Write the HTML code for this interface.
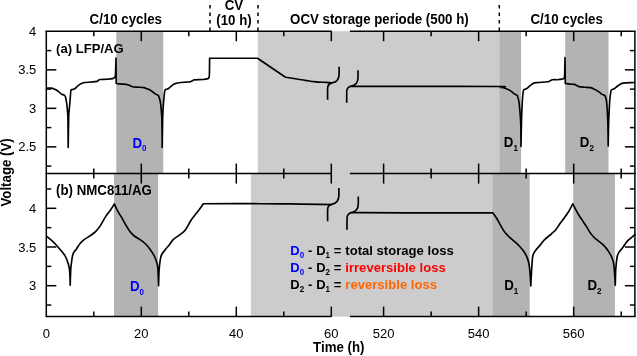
<!DOCTYPE html>
<html><head><meta charset="utf-8"><title>Voltage vs time</title>
<style>
html,body{margin:0;padding:0;background:#fff;}
body{width:637px;height:356px;overflow:hidden;}
svg{display:block;font-family:"Liberation Sans",Arial,sans-serif;}
</style></head>
<body>
<svg width="637" height="356" viewBox="0 0 637 356">
<rect width="637" height="356" fill="#fff"/>
<rect x="116.30" y="31.20" width="46.90" height="142.40" fill="#b3b3b3"/>
<rect x="257.80" y="31.20" width="241.50" height="142.40" fill="#cccccc"/>
<rect x="499.30" y="31.20" width="21.80" height="142.40" fill="#b3b3b3"/>
<rect x="565.20" y="31.20" width="43.30" height="142.40" fill="#b3b3b3"/>
<rect x="114.00" y="173.60" width="44.10" height="143.00" fill="#b3b3b3"/>
<rect x="250.90" y="173.60" width="241.30" height="143.00" fill="#cccccc"/>
<rect x="492.20" y="173.60" width="37.50" height="143.00" fill="#b3b3b3"/>
<rect x="573.20" y="173.60" width="41.70" height="143.00" fill="#b3b3b3"/>
<rect x="300.00" y="172.60" width="80.00" height="2.00" fill="#cccccc"/>
<path d="M46.50,88.10 C46.50,88.10 50.33,87.97 51.60,88.10 C52.87,88.23 53.27,88.55 54.10,88.90 C54.93,89.25 55.75,89.67 56.60,90.20 C57.45,90.73 58.50,91.53 59.20,92.10 C59.90,92.67 60.32,93.22 60.80,93.60 C61.28,93.98 61.53,94.15 62.10,94.40 C62.67,94.65 63.63,94.68 64.20,95.10 C64.77,95.52 65.12,95.75 65.50,96.90 C65.88,98.05 66.18,99.82 66.50,102.00 C66.82,104.18 67.17,107.33 67.40,110.00 C67.63,112.67 67.77,111.77 67.90,118.00 C68.03,124.23 68.20,147.40 68.20,147.40 C68.20,147.40 68.50,123.57 68.70,117.00 C68.90,110.43 69.17,110.83 69.40,108.00 C69.63,105.17 69.85,102.90 70.10,100.00 C70.35,97.10 70.55,92.35 70.90,90.60 C71.25,88.85 71.70,89.73 72.20,89.50 C72.70,89.27 73.33,89.43 73.90,89.20 C74.47,88.97 74.97,88.63 75.60,88.10 C76.23,87.57 76.93,86.67 77.70,86.00 C78.47,85.33 79.37,84.58 80.20,84.10 C81.03,83.62 81.98,83.37 82.70,83.10 C83.42,82.83 83.08,82.68 84.50,82.50 C85.92,82.32 89.13,82.18 91.20,82.00 C93.27,81.82 95.68,81.68 96.90,81.40 C98.12,81.12 97.95,80.62 98.50,80.30 C99.05,79.98 98.78,79.68 100.20,79.50 C101.62,79.32 104.93,79.35 107.00,79.20 C109.07,79.05 111.38,78.88 112.60,78.60 C113.82,78.32 113.83,78.07 114.30,77.50 C114.77,76.93 115.12,78.43 115.40,75.20 C115.68,71.97 116.00,58.10 116.00,58.10 C116.00,58.10 116.20,83.50 116.20,83.50 C116.20,83.50 116.30,83.60 117.50,83.70 C118.70,83.80 121.72,83.93 123.40,84.10 C125.08,84.27 126.40,84.38 127.60,84.70 C128.80,85.02 129.75,85.65 130.60,86.00 C131.45,86.35 131.37,86.60 132.70,86.80 C134.03,87.00 136.77,87.07 138.60,87.20 C140.43,87.33 142.30,87.35 143.70,87.60 C145.10,87.85 145.88,88.27 147.00,88.70 C148.12,89.13 149.33,89.57 150.40,90.20 C151.47,90.83 152.48,91.80 153.40,92.50 C154.32,93.20 155.13,93.95 155.90,94.40 C156.67,94.85 157.43,94.63 158.00,95.20 C158.57,95.77 158.88,96.53 159.30,97.80 C159.72,99.07 160.15,100.43 160.50,102.80 C160.85,105.17 161.17,109.13 161.40,112.00 C161.63,114.87 161.77,114.10 161.90,120.00 C162.03,125.90 162.20,147.40 162.20,147.40 C162.20,147.40 162.43,126.73 162.60,120.00 C162.77,113.27 162.98,110.58 163.20,107.00 C163.42,103.42 163.65,101.13 163.90,98.50 C164.15,95.87 164.35,92.72 164.70,91.20 C165.05,89.68 165.42,89.80 166.00,89.40 C166.58,89.00 167.47,89.23 168.20,88.80 C168.93,88.37 169.60,87.48 170.40,86.80 C171.20,86.12 172.07,85.27 173.00,84.70 C173.93,84.13 175.00,83.73 176.00,83.40 C177.00,83.07 177.35,82.92 179.00,82.70 C180.65,82.48 184.03,82.25 185.90,82.10 C187.77,81.95 189.05,82.07 190.20,81.80 C191.35,81.53 192.08,80.82 192.80,80.50 C193.52,80.18 192.77,80.07 194.50,79.90 C196.23,79.73 201.10,79.67 203.20,79.50 C205.30,79.33 206.17,79.18 207.10,78.90 C208.03,78.62 208.42,78.57 208.80,77.80 C209.18,77.03 209.27,77.57 209.40,74.30 C209.53,71.03 209.60,58.20 209.60,58.20 C209.60,58.20 257.50,58.20 257.50,58.20 C257.50,58.20 285.50,77.20 285.50,77.20 C285.50,77.20 307.05,80.73 313.80,81.60 C320.55,82.47 322.98,82.18 326.00,82.40 C329.02,82.62 331.90,82.90 331.90,82.90" fill="none" stroke="#000" stroke-width="1.65" stroke-linejoin="round" stroke-linecap="butt"/>
<path d="M350.80,86.40 C350.80,86.40 348.47,86.30 360.00,86.30 C371.53,86.30 396.78,86.37 420.00,86.40 C443.22,86.43 485.93,86.33 499.30,86.50 C512.67,86.67 499.48,87.20 500.20,87.40 C500.92,87.60 502.47,87.45 503.60,87.70 C504.73,87.95 505.88,88.42 507.00,88.90 C508.12,89.38 509.25,89.90 510.30,90.60 C511.35,91.30 512.45,92.45 513.30,93.10 C514.15,93.75 514.77,94.15 515.40,94.50 C516.03,94.85 516.62,94.52 517.10,95.20 C517.58,95.88 517.95,97.18 518.30,98.60 C518.65,100.02 518.88,100.97 519.20,103.70 C519.52,106.43 519.93,111.45 520.20,115.00 C520.47,118.55 520.67,119.77 520.80,125.00 C520.93,130.23 521.00,146.40 521.00,146.40 C521.00,146.40 521.25,131.07 521.40,125.00 C521.55,118.93 521.72,114.38 521.90,110.00 C522.08,105.62 522.25,101.92 522.50,98.70 C522.75,95.48 523.05,92.25 523.40,90.70 C523.75,89.15 524.05,89.77 524.60,89.40 C525.15,89.03 525.78,89.13 526.70,88.50 C527.62,87.87 528.97,86.47 530.10,85.60 C531.23,84.73 532.37,83.80 533.50,83.30 C534.63,82.80 534.52,82.85 536.90,82.60 C539.28,82.35 545.63,82.07 547.80,81.80 C549.97,81.53 549.12,81.35 549.90,81.00 C550.68,80.65 551.30,79.92 552.50,79.70 C553.70,79.48 555.48,79.80 557.10,79.70 C558.72,79.60 561.08,79.33 562.20,79.10 C563.32,78.87 563.40,78.98 563.80,78.30 C564.20,77.62 564.40,78.47 564.60,75.00 C564.80,71.53 565.00,57.50 565.00,57.50 C565.00,57.50 565.30,83.40 565.30,83.40 C565.30,83.40 568.60,83.93 570.10,84.10 C571.60,84.27 573.18,84.17 574.30,84.40 C575.42,84.63 576.03,85.13 576.80,85.50 C577.57,85.87 577.63,86.32 578.90,86.60 C580.17,86.88 582.50,87.03 584.40,87.20 C586.30,87.37 588.75,87.32 590.30,87.60 C591.85,87.88 592.58,88.40 593.70,88.90 C594.82,89.40 595.95,89.97 597.00,90.60 C598.05,91.23 599.15,92.07 600.00,92.70 C600.85,93.33 601.40,94.00 602.10,94.40 C602.80,94.80 603.63,94.68 604.20,95.10 C604.77,95.52 605.08,95.62 605.50,96.90 C605.92,98.18 606.37,99.78 606.70,102.80 C607.03,105.82 607.30,111.30 607.50,115.00 C607.70,118.70 607.78,119.85 607.90,125.00 C608.02,130.15 608.20,145.90 608.20,145.90 C608.20,145.90 608.43,130.98 608.60,125.00 C608.77,119.02 608.98,114.33 609.20,110.00 C609.42,105.67 609.58,102.23 609.90,99.00 C610.22,95.77 610.65,92.20 611.10,90.60 C611.55,89.00 612.00,89.75 612.60,89.40 C613.20,89.05 613.87,89.07 614.70,88.50 C615.53,87.93 616.62,86.77 617.60,86.00 C618.58,85.23 619.62,84.38 620.60,83.90 C621.58,83.42 621.88,83.32 623.50,83.10 C625.12,82.88 628.40,82.70 630.30,82.60 C632.20,82.50 634.90,82.50 634.90,82.50" fill="none" stroke="#000" stroke-width="1.65" stroke-linejoin="round" stroke-linecap="butt"/>
<path d="M46.60,236.30 C46.60,236.30 49.50,238.47 51.00,239.80 C52.50,241.13 54.27,242.90 55.60,244.30 C56.93,245.70 57.93,246.97 59.00,248.20 C60.07,249.43 60.88,250.23 62.00,251.70 C63.12,253.17 64.63,254.90 65.70,257.00 C66.77,259.10 67.73,261.87 68.40,264.30 C69.07,266.73 69.40,268.10 69.70,271.60 C70.00,275.10 70.20,285.30 70.20,285.30 C70.20,285.30 70.50,273.22 70.80,268.80 C71.10,264.38 71.58,261.38 72.00,258.80 C72.42,256.22 72.53,254.98 73.30,253.30 C74.07,251.62 75.43,250.37 76.60,248.70 C77.77,247.03 78.93,244.88 80.30,243.30 C81.67,241.72 82.98,240.58 84.80,239.20 C86.62,237.82 89.37,236.30 91.20,235.00 C93.03,233.70 94.27,232.97 95.80,231.40 C97.33,229.83 98.77,228.07 100.40,225.60 C102.03,223.13 103.88,219.23 105.60,216.60 C107.32,213.97 109.23,211.92 110.70,209.80 C112.17,207.68 114.40,203.90 114.40,203.90 C114.40,203.90 116.20,208.45 117.40,210.70 C118.60,212.95 120.20,215.02 121.60,217.40 C123.00,219.78 124.38,222.60 125.80,225.00 C127.22,227.40 128.68,229.97 130.10,231.80 C131.52,233.63 132.63,234.70 134.30,236.00 C135.97,237.30 138.30,238.35 140.10,239.60 C141.90,240.85 143.42,241.87 145.10,243.50 C146.78,245.13 148.65,247.28 150.20,249.40 C151.75,251.52 153.33,254.08 154.40,256.20 C155.47,258.32 156.03,260.13 156.60,262.10 C157.17,264.07 157.47,264.07 157.80,268.00 C158.13,271.93 158.60,285.70 158.60,285.70 C158.60,285.70 158.82,274.87 159.10,270.50 C159.38,266.13 159.87,262.17 160.30,259.50 C160.73,256.83 160.82,256.22 161.70,254.50 C162.58,252.78 164.32,250.83 165.60,249.20 C166.88,247.57 168.13,246.28 169.40,244.70 C170.67,243.12 171.72,241.17 173.20,239.70 C174.68,238.23 176.62,237.17 178.30,235.90 C179.98,234.63 181.93,233.37 183.30,232.10 C184.67,230.83 185.22,230.27 186.50,228.30 C187.78,226.33 189.65,222.45 191.00,220.30 C192.35,218.15 193.30,217.08 194.60,215.40 C195.90,213.72 197.35,212.15 198.80,210.20 C200.25,208.25 203.30,203.70 203.30,203.70 C203.30,203.70 245.55,203.67 260.00,203.70 C274.45,203.73 280.00,203.78 290.00,203.90 C300.00,204.02 313.05,204.28 320.00,204.40 C326.95,204.52 331.70,204.60 331.70,204.60" fill="none" stroke="#000" stroke-width="1.65" stroke-linejoin="round" stroke-linecap="butt"/>
<path d="M351.10,212.60 C351.10,212.60 348.52,212.55 360.00,212.60 C371.48,212.65 397.83,212.85 420.00,212.90 C442.17,212.95 493.00,212.90 493.00,212.90 C493.00,212.90 495.47,216.30 496.80,218.50 C498.13,220.70 499.60,223.72 501.00,226.10 C502.40,228.48 503.65,230.83 505.20,232.80 C506.75,234.77 508.62,236.35 510.30,237.90 C511.98,239.45 513.65,240.58 515.30,242.10 C516.95,243.62 518.77,245.43 520.20,247.00 C521.63,248.57 522.68,249.60 523.90,251.50 C525.12,253.40 526.57,255.77 527.50,258.40 C528.43,261.03 528.95,262.70 529.50,267.30 C530.05,271.90 530.80,286.00 530.80,286.00 C530.80,286.00 531.47,272.30 531.80,267.30 C532.13,262.30 532.30,258.63 532.80,256.00 C533.30,253.37 533.65,253.23 534.80,251.50 C535.95,249.77 538.07,247.57 539.70,245.60 C541.33,243.63 542.63,241.67 544.60,239.70 C546.57,237.73 549.60,235.50 551.50,233.80 C553.40,232.10 554.58,231.22 556.00,229.50 C557.42,227.78 558.72,225.30 560.00,223.50 C561.28,221.70 562.33,220.57 563.70,218.70 C565.07,216.83 566.68,214.78 568.20,212.30 C569.72,209.82 572.80,203.80 572.80,203.80 C572.80,203.80 574.68,207.60 575.70,209.50 C576.72,211.40 577.73,213.30 578.90,215.20 C580.07,217.10 581.43,219.00 582.70,220.90 C583.97,222.80 585.23,224.60 586.50,226.60 C587.77,228.60 589.05,231.12 590.30,232.90 C591.55,234.68 592.88,236.13 594.00,237.30 C595.12,238.47 596.00,239.08 597.00,239.90 C598.00,240.72 599.08,241.48 600.00,242.20 C600.92,242.92 601.67,243.43 602.50,244.20 C603.33,244.97 604.08,245.73 605.00,246.80 C605.92,247.87 606.90,248.90 608.00,250.60 C609.10,252.30 610.63,254.72 611.60,257.00 C612.57,259.28 613.18,259.58 613.80,264.30 C614.42,269.02 615.30,285.30 615.30,285.30 C615.30,285.30 615.50,273.52 615.80,268.80 C616.10,264.08 616.58,259.73 617.10,257.00 C617.62,254.27 617.98,253.93 618.90,252.40 C619.82,250.87 621.23,249.63 622.60,247.80 C623.97,245.97 625.58,243.13 627.10,241.40 C628.62,239.67 630.32,238.62 631.70,237.40 C633.08,236.18 635.40,234.10 635.40,234.10" fill="none" stroke="#000" stroke-width="1.65" stroke-linejoin="round" stroke-linecap="butt"/>
<path d="M339.10,66.70 L339.10,73.98 C339.10,79.28 336.10,82.26 331.90,82.92 C329.30,83.58 327.60,84.91 327.60,88.55 L327.60,99.80" fill="none" stroke="#000" stroke-width="1.65"/>
<path d="M358.00,70.30 L358.00,77.45 C358.00,82.65 355.00,85.57 350.80,86.22 C348.20,86.88 346.70,88.17 346.70,91.75 L346.70,102.80" fill="none" stroke="#000" stroke-width="1.65"/>
<path d="M338.90,188.00 L338.90,195.33 C338.90,200.65 335.90,203.65 331.70,204.32 C329.10,204.98 327.60,206.31 327.60,209.98 L327.60,221.30" fill="none" stroke="#000" stroke-width="1.65"/>
<path d="M358.30,196.40 L358.30,203.75 C358.30,209.09 355.30,212.10 351.10,212.77 C348.50,213.43 347.00,214.77 347.00,218.44 L347.00,229.80" fill="none" stroke="#000" stroke-width="1.65"/>
<line x1="45.55" y1="31.20" x2="331.60" y2="31.20" stroke="#000" stroke-width="1.5" />
<line x1="349.90" y1="31.20" x2="635.65" y2="31.20" stroke="#000" stroke-width="1.5" />
<line x1="45.55" y1="173.60" x2="331.60" y2="173.60" stroke="#000" stroke-width="1.5" />
<line x1="349.90" y1="173.60" x2="635.65" y2="173.60" stroke="#000" stroke-width="1.5" />
<line x1="45.55" y1="316.60" x2="331.60" y2="316.60" stroke="#000" stroke-width="1.5" />
<line x1="349.90" y1="316.60" x2="635.65" y2="316.60" stroke="#000" stroke-width="1.5" />
<line x1="46.30" y1="31.20" x2="46.30" y2="316.60" stroke="#000" stroke-width="1.5" />
<line x1="634.90" y1="31.20" x2="634.90" y2="316.60" stroke="#000" stroke-width="1.5" />
<line x1="93.80" y1="31.20" x2="93.80" y2="36.20" stroke="#000" stroke-width="1.5" />
<line x1="93.80" y1="168.60" x2="93.80" y2="178.60" stroke="#000" stroke-width="1.5" />
<line x1="93.80" y1="311.60" x2="93.80" y2="316.60" stroke="#000" stroke-width="1.5" />
<line x1="141.30" y1="31.20" x2="141.30" y2="41.20" stroke="#000" stroke-width="1.5" />
<line x1="141.30" y1="163.60" x2="141.30" y2="183.60" stroke="#000" stroke-width="1.5" />
<line x1="141.30" y1="306.60" x2="141.30" y2="316.60" stroke="#000" stroke-width="1.5" />
<line x1="188.80" y1="31.20" x2="188.80" y2="36.20" stroke="#000" stroke-width="1.5" />
<line x1="188.80" y1="168.60" x2="188.80" y2="178.60" stroke="#000" stroke-width="1.5" />
<line x1="188.80" y1="311.60" x2="188.80" y2="316.60" stroke="#000" stroke-width="1.5" />
<line x1="236.30" y1="31.20" x2="236.30" y2="41.20" stroke="#000" stroke-width="1.5" />
<line x1="236.30" y1="163.60" x2="236.30" y2="183.60" stroke="#000" stroke-width="1.5" />
<line x1="236.30" y1="306.60" x2="236.30" y2="316.60" stroke="#000" stroke-width="1.5" />
<line x1="283.80" y1="31.20" x2="283.80" y2="36.20" stroke="#000" stroke-width="1.5" />
<line x1="283.80" y1="168.60" x2="283.80" y2="178.60" stroke="#000" stroke-width="1.5" />
<line x1="283.80" y1="311.60" x2="283.80" y2="316.60" stroke="#000" stroke-width="1.5" />
<line x1="331.30" y1="31.20" x2="331.30" y2="41.20" stroke="#000" stroke-width="1.5" />
<line x1="331.30" y1="163.60" x2="331.30" y2="183.60" stroke="#000" stroke-width="1.5" />
<line x1="331.30" y1="306.60" x2="331.30" y2="316.60" stroke="#000" stroke-width="1.5" />
<line x1="383.60" y1="31.20" x2="383.60" y2="41.20" stroke="#000" stroke-width="1.5" />
<line x1="383.60" y1="163.60" x2="383.60" y2="183.60" stroke="#000" stroke-width="1.5" />
<line x1="383.60" y1="306.60" x2="383.60" y2="316.60" stroke="#000" stroke-width="1.5" />
<line x1="431.12" y1="31.20" x2="431.12" y2="36.20" stroke="#000" stroke-width="1.5" />
<line x1="431.12" y1="168.60" x2="431.12" y2="178.60" stroke="#000" stroke-width="1.5" />
<line x1="431.12" y1="311.60" x2="431.12" y2="316.60" stroke="#000" stroke-width="1.5" />
<line x1="478.64" y1="31.20" x2="478.64" y2="41.20" stroke="#000" stroke-width="1.5" />
<line x1="478.64" y1="163.60" x2="478.64" y2="183.60" stroke="#000" stroke-width="1.5" />
<line x1="478.64" y1="306.60" x2="478.64" y2="316.60" stroke="#000" stroke-width="1.5" />
<line x1="526.16" y1="31.20" x2="526.16" y2="36.20" stroke="#000" stroke-width="1.5" />
<line x1="526.16" y1="168.60" x2="526.16" y2="178.60" stroke="#000" stroke-width="1.5" />
<line x1="526.16" y1="311.60" x2="526.16" y2="316.60" stroke="#000" stroke-width="1.5" />
<line x1="573.68" y1="31.20" x2="573.68" y2="41.20" stroke="#000" stroke-width="1.5" />
<line x1="573.68" y1="163.60" x2="573.68" y2="183.60" stroke="#000" stroke-width="1.5" />
<line x1="573.68" y1="306.60" x2="573.68" y2="316.60" stroke="#000" stroke-width="1.5" />
<line x1="621.20" y1="31.20" x2="621.20" y2="36.20" stroke="#000" stroke-width="1.5" />
<line x1="621.20" y1="168.60" x2="621.20" y2="178.60" stroke="#000" stroke-width="1.5" />
<line x1="621.20" y1="311.60" x2="621.20" y2="316.60" stroke="#000" stroke-width="1.5" />
<line x1="46.30" y1="50.60" x2="51.30" y2="50.60" stroke="#000" stroke-width="1.5" />
<line x1="629.90" y1="50.60" x2="634.90" y2="50.60" stroke="#000" stroke-width="1.5" />
<line x1="46.30" y1="69.85" x2="56.30" y2="69.85" stroke="#000" stroke-width="1.5" />
<line x1="624.90" y1="69.85" x2="634.90" y2="69.85" stroke="#000" stroke-width="1.5" />
<line x1="46.30" y1="89.10" x2="51.30" y2="89.10" stroke="#000" stroke-width="1.5" />
<line x1="629.90" y1="89.10" x2="634.90" y2="89.10" stroke="#000" stroke-width="1.5" />
<line x1="46.30" y1="108.35" x2="56.30" y2="108.35" stroke="#000" stroke-width="1.5" />
<line x1="624.90" y1="108.35" x2="634.90" y2="108.35" stroke="#000" stroke-width="1.5" />
<line x1="46.30" y1="127.60" x2="51.30" y2="127.60" stroke="#000" stroke-width="1.5" />
<line x1="629.90" y1="127.60" x2="634.90" y2="127.60" stroke="#000" stroke-width="1.5" />
<line x1="46.30" y1="146.85" x2="56.30" y2="146.85" stroke="#000" stroke-width="1.5" />
<line x1="624.90" y1="146.85" x2="634.90" y2="146.85" stroke="#000" stroke-width="1.5" />
<line x1="46.30" y1="166.10" x2="51.30" y2="166.10" stroke="#000" stroke-width="1.5" />
<line x1="629.90" y1="166.10" x2="634.90" y2="166.10" stroke="#000" stroke-width="1.5" />
<line x1="46.30" y1="188.95" x2="51.30" y2="188.95" stroke="#000" stroke-width="1.5" />
<line x1="629.90" y1="188.95" x2="634.90" y2="188.95" stroke="#000" stroke-width="1.5" />
<line x1="46.30" y1="208.30" x2="56.30" y2="208.30" stroke="#000" stroke-width="1.5" />
<line x1="624.90" y1="208.30" x2="634.90" y2="208.30" stroke="#000" stroke-width="1.5" />
<line x1="46.30" y1="227.65" x2="51.30" y2="227.65" stroke="#000" stroke-width="1.5" />
<line x1="629.90" y1="227.65" x2="634.90" y2="227.65" stroke="#000" stroke-width="1.5" />
<line x1="46.30" y1="247.00" x2="56.30" y2="247.00" stroke="#000" stroke-width="1.5" />
<line x1="624.90" y1="247.00" x2="634.90" y2="247.00" stroke="#000" stroke-width="1.5" />
<line x1="46.30" y1="266.35" x2="51.30" y2="266.35" stroke="#000" stroke-width="1.5" />
<line x1="629.90" y1="266.35" x2="634.90" y2="266.35" stroke="#000" stroke-width="1.5" />
<line x1="46.30" y1="285.70" x2="56.30" y2="285.70" stroke="#000" stroke-width="1.5" />
<line x1="624.90" y1="285.70" x2="634.90" y2="285.70" stroke="#000" stroke-width="1.5" />
<line x1="46.30" y1="305.05" x2="51.30" y2="305.05" stroke="#000" stroke-width="1.5" />
<line x1="629.90" y1="305.05" x2="634.90" y2="305.05" stroke="#000" stroke-width="1.5" />
<line x1="210.00" y1="5.00" x2="210.00" y2="31.20" stroke="#000" stroke-width="1.5" stroke-dasharray="3.5,4"/>
<line x1="258.00" y1="5.00" x2="258.00" y2="31.20" stroke="#000" stroke-width="1.5" stroke-dasharray="3.5,4"/>
<line x1="499.30" y1="5.00" x2="499.30" y2="31.20" stroke="#000" stroke-width="1.5" stroke-dasharray="3.5,4"/>
<text x="46.30" y="337.80" transform="matrix(1,0,0,1.04,0,-13.512)" text-anchor="middle" font-size="13" font-weight="normal" fill="#000" >0</text>
<text x="141.30" y="337.80" transform="matrix(1,0,0,1.04,0,-13.512)" text-anchor="middle" font-size="13" font-weight="normal" fill="#000" >20</text>
<text x="236.30" y="337.80" transform="matrix(1,0,0,1.04,0,-13.512)" text-anchor="middle" font-size="13" font-weight="normal" fill="#000" >40</text>
<text x="331.30" y="337.80" transform="matrix(1,0,0,1.04,0,-13.512)" text-anchor="middle" font-size="13" font-weight="normal" fill="#000" >60</text>
<text x="383.60" y="337.80" transform="matrix(1,0,0,1.04,0,-13.512)" text-anchor="middle" font-size="13" font-weight="normal" fill="#000" >520</text>
<text x="478.64" y="337.80" transform="matrix(1,0,0,1.04,0,-13.512)" text-anchor="middle" font-size="13" font-weight="normal" fill="#000" >540</text>
<text x="573.68" y="337.80" transform="matrix(1,0,0,1.04,0,-13.512)" text-anchor="middle" font-size="13" font-weight="normal" fill="#000" >560</text>
<text x="36.30" y="35.95" transform="matrix(1,0,0,1.04,0,-1.438)" text-anchor="end" font-size="13" font-weight="normal" fill="#000" >4</text>
<text x="36.30" y="74.45" transform="matrix(1,0,0,1.04,0,-2.978)" text-anchor="end" font-size="13" font-weight="normal" fill="#000" >3.5</text>
<text x="36.30" y="112.95" transform="matrix(1,0,0,1.04,0,-4.518)" text-anchor="end" font-size="13" font-weight="normal" fill="#000" >3</text>
<text x="36.30" y="151.45" transform="matrix(1,0,0,1.04,0,-6.058)" text-anchor="end" font-size="13" font-weight="normal" fill="#000" >2.5</text>
<text x="36.30" y="212.90" transform="matrix(1,0,0,1.04,0,-8.516)" text-anchor="end" font-size="13" font-weight="normal" fill="#000" >4</text>
<text x="36.30" y="251.60" transform="matrix(1,0,0,1.04,0,-10.064)" text-anchor="end" font-size="13" font-weight="normal" fill="#000" >3.5</text>
<text x="36.30" y="290.30" transform="matrix(1,0,0,1.04,0,-11.612)" text-anchor="end" font-size="13" font-weight="normal" fill="#000" >3</text>
<text x="338.80" y="352.10" transform="matrix(1,0,0,1.04,0,-14.084)" text-anchor="middle" font-size="13.3" font-weight="bold" fill="#000" >Time (h)</text>
<text transform="translate(11,172.4) rotate(-90) scale(1,1.04)" x="0" y="0" text-anchor="middle" font-size="13.3" font-weight="bold">Voltage (V)</text>
<text x="125.80" y="23.80" transform="matrix(1,0,0,1.04,0,-0.952)" text-anchor="middle" font-size="13.3" font-weight="bold" fill="#000" >C/10 cycles</text>
<text x="566.70" y="23.80" transform="matrix(1,0,0,1.04,0,-0.952)" text-anchor="middle" font-size="13.3" font-weight="bold" fill="#000" >C/10 cycles</text>
<text x="379.40" y="23.80" transform="matrix(1,0,0,1.04,0,-0.952)" text-anchor="middle" font-size="13.3" font-weight="bold" fill="#000" >OCV storage periode (500 h)</text>
<text x="233.90" y="10.20" transform="matrix(1,0,0,1.04,0,-0.408)" text-anchor="middle" font-size="13.3" font-weight="bold" fill="#000" >CV</text>
<text x="234.00" y="24.60" transform="matrix(1,0,0,1.04,0,-0.984)" text-anchor="middle" font-size="13.3" font-weight="bold" fill="#000" >(10 h)</text>
<text x="56.10" y="52.70" transform="matrix(1,0,0,1.04,0,-2.108)" text-anchor="start" font-size="13.1" font-weight="bold" fill="#000" >(a) LFP/AG</text>
<text x="56.00" y="195.10" transform="matrix(1,0,0,1.04,0,-7.804)" text-anchor="start" font-size="13.3" font-weight="bold" fill="#000" >(b) NMC811/AG</text>
<text x="132.40" y="147.60" transform="matrix(1,0,0,1.04,0,-5.904)" font-size="13.3" font-weight="bold" fill="#0000ff">D<tspan font-size="8.0" dy="3.7">0</tspan></text>
<text x="129.90" y="290.70" transform="matrix(1,0,0,1.04,0,-11.628)" font-size="13.3" font-weight="bold" fill="#0000ff">D<tspan font-size="8.0" dy="3.7">0</tspan></text>
<text x="503.80" y="147.40" transform="matrix(1,0,0,1.04,0,-5.896)" font-size="13.3" font-weight="bold" fill="#000">D<tspan font-size="8.0" dy="3.7">1</tspan></text>
<text x="579.80" y="147.40" transform="matrix(1,0,0,1.04,0,-5.896)" font-size="13.3" font-weight="bold" fill="#000">D<tspan font-size="8.0" dy="3.7">2</tspan></text>
<text x="504.20" y="290.50" transform="matrix(1,0,0,1.04,0,-11.620)" font-size="13.3" font-weight="bold" fill="#000">D<tspan font-size="8.0" dy="3.7">1</tspan></text>
<text x="587.40" y="290.50" transform="matrix(1,0,0,1.04,0,-11.620)" font-size="13.3" font-weight="bold" fill="#000">D<tspan font-size="8.0" dy="3.7">2</tspan></text>
<text x="290.35" y="254.70" transform="matrix(1,0,0,1.04,0,-10.188)" font-size="13.0" font-weight="bold" fill="#0000ff">D</text>
<text x="299.80" y="258.40" transform="matrix(1,0,0,1.04,0,-10.336)" font-size="8.0" font-weight="bold" fill="#0000ff">0</text>
<text x="308.00" y="254.70" transform="matrix(1,0,0,1.04,0,-10.188)" font-size="13.0" font-weight="bold" fill="#000">-</text>
<text x="316.20" y="254.70" transform="matrix(1,0,0,1.04,0,-10.188)" font-size="13.0" font-weight="bold" fill="#000">D</text>
<text x="325.40" y="258.40" transform="matrix(1,0,0,1.04,0,-10.336)" font-size="8.0" font-weight="bold" fill="#000">1</text>
<text x="333.70" y="254.70" transform="matrix(1,0,0,1.04,0,-10.188)" font-size="13.0" font-weight="bold" fill="#000">=</text>
<text x="345.30" y="254.70" transform="matrix(1,0,0,1.04,0,-10.188)" font-size="13.1" font-weight="bold" fill="#000">total storage loss</text>
<text x="290.35" y="271.70" transform="matrix(1,0,0,1.04,0,-10.868)" font-size="13.0" font-weight="bold" fill="#0000ff">D</text>
<text x="299.80" y="275.40" transform="matrix(1,0,0,1.04,0,-11.016)" font-size="8.0" font-weight="bold" fill="#0000ff">0</text>
<text x="308.00" y="271.70" transform="matrix(1,0,0,1.04,0,-10.868)" font-size="13.0" font-weight="bold" fill="#000">-</text>
<text x="316.20" y="271.70" transform="matrix(1,0,0,1.04,0,-10.868)" font-size="13.0" font-weight="bold" fill="#000">D</text>
<text x="325.40" y="275.40" transform="matrix(1,0,0,1.04,0,-11.016)" font-size="8.0" font-weight="bold" fill="#000">2</text>
<text x="333.70" y="271.70" transform="matrix(1,0,0,1.04,0,-10.868)" font-size="13.0" font-weight="bold" fill="#000">=</text>
<text x="345.30" y="271.70" transform="matrix(1,0,0,1.04,0,-10.868)" font-size="13.1" font-weight="bold" fill="#ff0000">irreversible loss</text>
<text x="290.35" y="288.60" transform="matrix(1,0,0,1.04,0,-11.544)" font-size="13.0" font-weight="bold" fill="#000">D</text>
<text x="299.80" y="292.30" transform="matrix(1,0,0,1.04,0,-11.692)" font-size="8.0" font-weight="bold" fill="#000">2</text>
<text x="308.00" y="288.60" transform="matrix(1,0,0,1.04,0,-11.544)" font-size="13.0" font-weight="bold" fill="#000">-</text>
<text x="316.20" y="288.60" transform="matrix(1,0,0,1.04,0,-11.544)" font-size="13.0" font-weight="bold" fill="#000">D</text>
<text x="325.40" y="292.30" transform="matrix(1,0,0,1.04,0,-11.692)" font-size="8.0" font-weight="bold" fill="#000">1</text>
<text x="333.70" y="288.60" transform="matrix(1,0,0,1.04,0,-11.544)" font-size="13.0" font-weight="bold" fill="#000">=</text>
<text x="345.30" y="288.60" transform="matrix(1,0,0,1.04,0,-11.544)" font-size="13.1" font-weight="bold" fill="#ff6600">reversible loss</text>
</svg>
</body></html>
